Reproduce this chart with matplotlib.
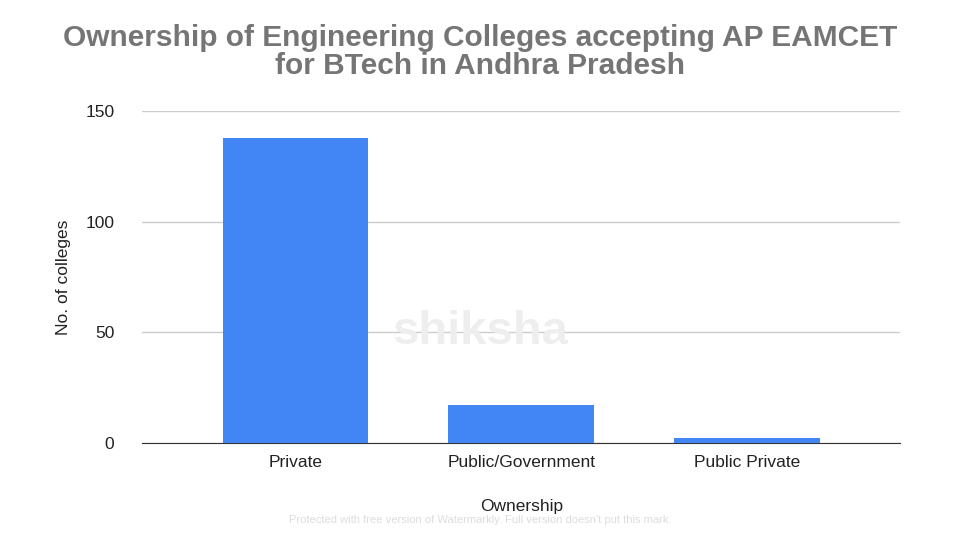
import matplotlib.pyplot as plt

plt.rcParams['font.family'] = ['Liberation Sans', 'DejaVu Sans']

categories = ['Private', 'Public/Government', 'Public Private']
colleges = [138, 17, 2]

fig = plt.figure(figsize=(9.6, 5.4), dpi=100)
ax = fig.add_axes([0.148, 0.18, 0.79, 0.614])

ax.bar(categories, colleges, width=0.645, color='#4285f4', zorder=3)
ax.set_xlim(-0.68, 2.68)
ax.set_ylim(0, 150)
ax.set_yticks([0, 50, 100, 150])
ax.grid(axis='y', color='#cccccc', linewidth=1, zorder=0)
for s in ['top', 'right', 'left']:
    ax.spines[s].set_visible(False)
ax.spines['bottom'].set_color('#333333')
ax.tick_params(axis='both', length=0, labelsize=12.5, colors='#222222', pad=9)
ax.tick_params(axis='y', pad=20)

ax.set_ylabel('No. of colleges', fontsize=12.5, color='#222222', labelpad=10)
ax.set_xlabel('Ownership', fontsize=12.5, color='#222222', labelpad=21)

fig.suptitle('Ownership of Engineering Colleges accepting AP EAMCET\nfor BTech in Andhra Pradesh',
             x=0.5, y=0.955, fontsize=21.5, fontweight='bold', color='#757575', linespacing=1.0)

fig.text(0.5, 0.385, 'shiksha', fontsize=34, fontweight='bold', color='#eeeeee',
         ha='center', va='center', zorder=0)
fig.text(0.5, 0.037, "Protected with free version of Watermarkly. Full version doesn't put this mark.",
         fontsize=8, color='#dddddd', ha='center', va='center')

fig.savefig('out.png', dpi=100)
